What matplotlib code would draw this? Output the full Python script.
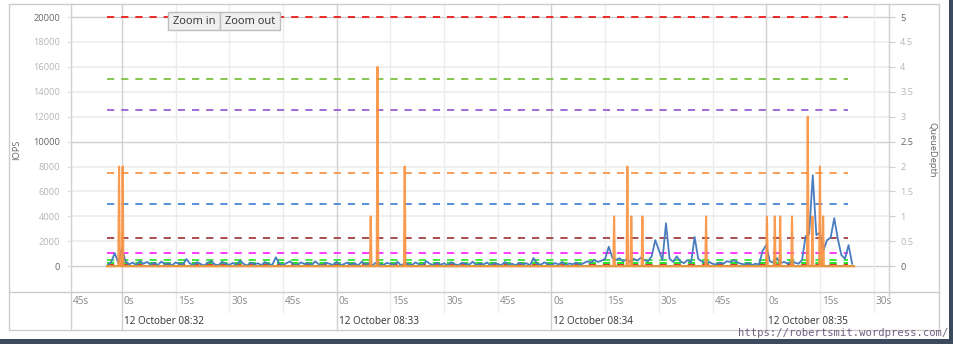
import numpy as np
import matplotlib
matplotlib.use("Agg")
import matplotlib.pyplot as plt
from matplotlib.lines import Line2D
from matplotlib.patches import Rectangle

plt.rcParams['font.family'] = ['Open Sans', 'DejaVu Sans']
plt.rcParams['lines.scale_dashes'] = False

# ---------------- data ----------------
# seconds relative to 12 October 08:32:00
blue_start = -4
iops_values = [
    80, 350, 1060, 250,
    1460, 400, 150, 300, 80, 420, 200, 350, 120, 280,
    90, 380, 160, 240, 70, 310, 200, 130, 580, 220,
    100, 330, 180, 60, 290, 410, 140, 90, 360, 200,
    120, 270, 80, 450, 190, 60, 300, 150, 240, 90,
    340, 170, 110, 720, 200, 80, 260, 390, 130, 70,
    310, 180, 240, 90, 400, 150, 60, 280, 200, 110,
    350, 90, 170, 300, 120, 250, 60, 380, 140, 220,
    80, 300, 160, 90, 270, 200, 110, 350, 70, 240,
    180, 90, 310, 150, 60, 420, 200, 100, 280, 130,
    240, 70, 330, 160, 90, 280, 200, 120, 370, 80,
    210, 150, 300, 60, 250, 180, 90, 340, 120, 200,
    80, 280, 150, 240, 90, 660, 200, 120, 310, 170,
    90, 260, 140, 350, 80, 220, 170, 300, 110, 250,
    400, 300, 500, 350, 450, 600, 1570, 700, 500, 650,
    400, 550, 350, 600, 450, 700, 500, 400, 800, 2100,
    1300, 500, 3450, 600, 350, 800, 400, 250, 500, 300,
    2350, 600, 400, 250, 350, 200, 150, 300, 200, 400,
    350, 500, 300, 200, 150, 250, 100, 200, 150, 1250,
    1700, 400, 300, 660, 250, 350, 200, 400, 300, 200,
    500, 2400, 2600, 7300, 2500, 2700, 1300, 2100, 2300, 3860,
    2200, 900, 600, 1700, 200,
]

# QueueDepth spikes (time in s, depth)
qd_times = [-0.8, 0.2, 69.5, 71.4, 79.0, 137.5, 141.2, 142.3, 145.4, 163.2,
            180.2, 182.4, 183.9, 187.2, 191.6, 192.9, 195.0, 195.9]
qd_values = [2, 2, 1, 4, 2, 1, 2, 1, 1, 1,
             1, 1, 1, 1, 3, 1, 2, 1]

series_span = (-4.2, 204.5)
threshold_span = (-4.2, 202.9)
threshold_values = [20000, 15000, 12500, 7500, 5000, 2290, 1090, 500, 290, 100]
threshold_colors = ['#e81c1c', '#7cc142', '#9b5fd2', '#f7954a', '#4a88d8',
                    '#a43f3f', '#ff2aff', '#2ee82e', '#11dd11', '#dd2222']

x_tick_secs = [-15, 0, 15, 30, 45, 60, 75, 90, 105, 120, 135, 150, 165, 180, 195, 210]
x_tick_labels = ['45s', '0s', '15s', '30s', '45s', '0s', '15s', '30s', '45s',
                 '0s', '15s', '30s', '45s', '0s', '15s', '30s']
minute_secs = [0, 60, 120, 180]
minute_labels = ['12 October 08:32', '12 October 08:33', '12 October 08:34', '12 October 08:35']

left_ticks = list(range(0, 20001, 2000))
right_ticks = [0, 0.5, 1, 1.5, 2, 2.5, 3, 3.5, 4, 4.5, 5]

# ---------------- figure ----------------
W, H = 954, 344
fig = plt.figure(figsize=(W / 100, H / 100), dpi=100)
fig.patch.set_facecolor('white')

def fx(px):
    return px / W

def fy(py):
    return 1 - py / H

ax_l, ax_r, ax_t, ax_b = 71, 889, 4, 292
ax = fig.add_axes([fx(ax_l), fy(ax_b), fx(ax_r - ax_l), (ax_b - ax_t) / H])
ax.set_facecolor('none')
ax2 = ax.twinx()

XMIN, XMAX = -14.23, 214.3
ax.set_xlim(XMIN, XMAX)
ax.set_ylim(-2064, 21044)
ax2.set_ylim(-0.516, 5.261)

for a in (ax, ax2):
    for s in a.spines.values():
        s.set_visible(False)

# horizontal grid
for v in left_ticks:
    dark = v in (0, 10000, 20000)
    ax.axhline(v, color='#cfcfcf' if dark else '#ececec', lw=1.0 if dark else 1.2, zorder=0)

# vertical grid
for s in x_tick_secs:
    if s < XMIN:
        continue
    if s in minute_secs:
        ax.axvline(s, ymin=-38 / 288, ymax=1, color='#d0d0d0', lw=1.0, zorder=0, clip_on=False)
    else:
        ax.axvline(s, ymin=-20 / 288, ymax=1, color='#ececec', lw=1.0, zorder=0, clip_on=False)

# left and right axis lines
ax.axvline(XMIN, ymin=-38 / 288, ymax=1, color='#d0d0d0', lw=1.0, zorder=0, clip_on=False)
ax.axvline(XMAX, ymin=-4 / 288, ymax=1, color='#d0d0d0', lw=1.0, zorder=0, clip_on=False)

# threshold dashed lines
for v, c in zip(threshold_values, threshold_colors):
    ax.plot(threshold_span, [v, v], color=c, lw=1.3, dashes=(5.2, 5.0), zorder=2)

# IOPS series
t_iops = blue_start + np.arange(len(iops_values))
ax.plot(t_iops, iops_values, color='#4a7cc0', lw=1.3, zorder=3)

# QueueDepth series (spikes on zero baseline)
qt = [series_span[0]]
qv = [0]
for t, v in zip(qd_times, qd_values):
    qt += [t - 0.22, t, t + 0.22]
    qv += [0, v, 0]
qt.append(series_span[1])
qv.append(0)
ax2.plot(qt, qv, color='#f9913f', lw=1.5, alpha=0.9, zorder=4)

# zero-level series
ax.plot(series_span, [0, 0], color='#e23b3b', lw=1.2, zorder=3)
ax.plot(series_span, [0, 0], color='#7cc142', lw=1.4, zorder=5)

# ticks
ax.set_xticks([])
ax.set_yticks(left_ticks)
ax.set_yticklabels([f'{v}' for v in left_ticks], fontsize=6.7)
ax.tick_params(axis='y', length=3, pad=5, color='#dddddd')
for lab, v in zip(ax.get_yticklabels(), left_ticks):
    lab.set_color('#666666' if v in (0, 10000, 20000) else '#b5b5b5')

ax2.set_yticks(right_ticks)
ax2.set_yticklabels([f'{v:g}' for v in right_ticks], fontsize=6.7)
ax2.tick_params(axis='y', length=4, pad=4, color='#cccccc')
for lab, v in zip(ax2.get_yticklabels(), right_ticks):
    lab.set_color('#666666' if v in (0, 2.5, 5) else '#b5b5b5')

# x labels (left aligned after gridline)
for s, lab in zip(x_tick_secs, x_tick_labels):
    ax.annotate(lab, xy=(max(s, XMIN), 0), xycoords=('data', 'axes fraction'),
                xytext=(2, -10), textcoords='offset pixels',
                ha='left', va='center', fontsize=7.2, color='#888888',
                annotation_clip=False)
for s, lab in zip(minute_secs, minute_labels):
    ax.annotate(lab, xy=(s, 0), xycoords=('data', 'axes fraction'),
                xytext=(2, -29), textcoords='offset pixels',
                ha='left', va='center', fontsize=7.2, color='#333333',
                annotation_clip=False)

# axis titles
fig.text(fx(17), fy(150), 'IOPS', rotation=90, ha='center', va='center',
         fontsize=6.7, color='#666666')
fig.text(fx(932), fy(150), 'QueueDepth', rotation=270, ha='center', va='center',
         fontsize=6.7, color='#666666')

# outer frame and x-axis line
fig.add_artist(Rectangle((fx(9), fy(330)), fx(939 - 9), (330 - 4) / H,
                         transform=fig.transFigure, fill=False,
                         edgecolor='#cccccc', lw=1.0))
fig.add_artist(Line2D([fx(9), fx(939)], [fy(292), fy(292)], color='#cccccc', lw=1.0,
                      transform=fig.transFigure))

# zoom buttons
for (x0, x1, txt) in [(168, 220, 'Zoom in'), (220, 280, 'Zoom out')]:
    fig.add_artist(Rectangle((fx(x0), fy(30)), fx(x1 - x0), 18 / H,
                             transform=fig.transFigure, facecolor='#efefef',
                             edgecolor='#bdbdbd', lw=1.0, zorder=10))
    fig.text(fx((x0 + x1) / 2), fy(21), txt, ha='center', va='center',
             fontsize=8, color='#333333', zorder=11)

# screenshot frame strips
fig.add_artist(Rectangle((0, 0), 1, 5 / H, transform=fig.transFigure,
                         facecolor='#3b4a5c', edgecolor='none'))
fig.add_artist(Rectangle((fx(949), 0), fx(5), 1, transform=fig.transFigure,
                         facecolor='#3b4a5c', edgecolor='none'))

# watermark
fig.text(fx(948), fy(333), 'https://robertsmit.wordpress.com/', ha='right', va='center',
         fontsize=7.6, family='DejaVu Sans Mono', color='#6e5f80', zorder=12)

fig.savefig('out.png', dpi=100)
